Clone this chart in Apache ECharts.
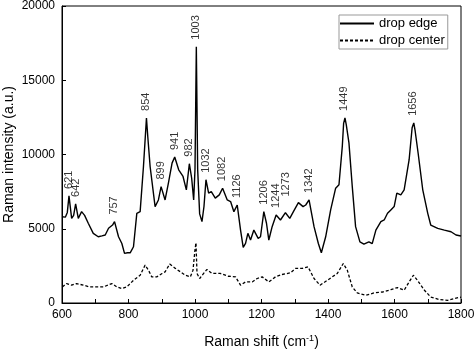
<!DOCTYPE html>
<html>
<head>
<meta charset="UTF-8">
<title>Raman</title>
<script src="https://cdn.jsdelivr.net/npm/echarts@6/dist/echarts.min.js"></script>
<style>
  html, body { margin: 0; padding: 0; background: #fff; }
  #main { width: 474px; height: 351px; }
</style>
</head>
<body>
<div id="main"></div>
<script>
// drop edge spectrum (Raman shift, intensity)
var edgeShift = [600,610,616,621,629,635,641,649,659,668,679,694,709,720,730,740,752,758,770,780,788,797,805,815,825,835,845,850,854,858,865,880,890,898,910,920,931,939,945,951,964,974,983,990,996,1000,1004,1008,1014,1021,1027,1033,1041,1049,1061,1073,1083,1097,1107,1117,1127,1137,1145,1152,1159,1167,1177,1190,1197,1207,1215,1222,1232,1244,1257,1272,1285,1296,1311,1325,1333,1343,1358,1371,1380,1393,1408,1423,1433,1443,1447,1451,1455,1463,1473,1483,1496,1508,1523,1533,1544,1559,1569,1579,1589,1599,1607,1619,1629,1644,1653,1658,1662,1671,1685,1700,1709,1730,1750,1770,1785,1800];
var edgeInt = [5810,5780,6100,7210,5700,5900,6670,5700,6150,5900,5370,4690,4460,4520,4580,5030,5250,5480,4460,4010,3340,3380,3380,3790,6040,6150,9190,11000,12460,11200,9190,6490,6940,7840,6940,8070,9420,9830,9700,8970,8520,7620,9380,8400,6940,9000,17260,9000,6000,5480,6500,8300,7400,7500,7060,7280,7730,6940,6830,6150,6600,4910,3750,4010,4690,4240,4910,4350,4460,6150,5370,4240,5140,5930,5590,6080,5700,6150,6760,6490,6600,6940,5140,4010,3380,4460,6270,7730,7960,10550,12100,12460,12000,10780,7840,5140,4120,3970,4120,4000,4910,5480,5590,6040,6270,6490,7400,7280,7620,9650,11800,12130,11600,10100,7620,6040,5250,5030,4910,4800,4580,4510];

// drop center spectrum
var centerShift = [601,614,629,644,664,684,699,724,750,765,780,795,815,835,850,860,870,885,901,910,924,941,956,971,986,994,1000,1003,1006,1014,1026,1036,1051,1076,1101,1122,1137,1152,1172,1187,1202,1222,1242,1262,1287,1302,1323,1340,1358,1376,1398,1428,1446,1458,1473,1488,1514,1539,1564,1589,1609,1629,1644,1657,1669,1690,1709,1735,1760,1780,1800];
var centerInt = [1080,1310,1200,1310,1200,1080,1080,1080,1310,1080,970,1080,1530,1870,2550,2210,1760,1760,1990,2100,2620,2330,2100,1870,1760,2210,3600,4050,1990,1650,1990,2260,1990,1990,1800,1760,1200,1420,1420,1650,1760,1420,1760,1920,2030,2330,2330,2430,1650,1200,1530,1990,2660,2210,1080,680,520,680,740,900,1040,860,1420,1870,1530,860,400,230,180,300,400];

// labelled peaks
var peakShift = [621,642,757,854,899,941,982,1003,1032,1082,1126,1206,1244,1273,1342,1449,1656];
var peakInt = [7210,6670,5480,12460,7840,9830,9380,17260,8300,7730,6600,6150,5930,6700,6940,12460,12130];

var xTicks = [600,800,1000,1200,1400,1600,1800];

function pairs(xs, ys) {
  var out = [];
  for (var i = 0; i < xs.length; i++) out.push([xs[i], ys[i]]);
  return out;
}

var font = 'Liberation Sans, Arial, sans-serif';
var myChart = echarts.init(document.getElementById('main'));
var option = {
  backgroundColor: '#fff',
  animation: false,
  textStyle: { fontFamily: font, color: '#000' },
  grid: {
    left: 62, right: 13, top: 6, bottom: 48,
    outerBoundsMode: 'none', containLabel: false,
    show: true, borderColor: '#000', borderWidth: 1
  },
  legend: {
    data: ['drop edge', 'drop center'],
    orient: 'vertical',
    left: 339, top: 15,
    itemWidth: 34, itemHeight: 14, itemGap: 4,
    padding: [2, 3, 2, 0],
    borderColor: '#999', borderWidth: 1,
    itemStyle: { opacity: 0 },
    textStyle: { fontFamily: font, fontSize: 13, color: '#000' }
  },
  xAxis: {
    type: 'value', min: 600, max: 1800, interval: 200,
    name: 'Raman shift (cm{sup|-1})',
    nameLocation: 'middle', nameGap: 31, nameMoveOverlap: false,
    nameTextStyle: {
      fontFamily: font, fontSize: 14, color: '#000',
      rich: { sup: { fontSize: 9, verticalAlign: 'top', padding: [0, 0, 8, 0], color: '#000' } }
    },
    axisLine: { lineStyle: { color: '#000', width: 1 } },
    axisTick: { inside: true, length: 4, lineStyle: { color: '#000' } },
    minorTick: { show: true, splitNumber: 2, length: 4, lineStyle: { color: '#000' } },
    axisLabel: {
      fontFamily: font, fontSize: 12, color: '#000', margin: 6,
      formatter: function (v) { return xTicks.indexOf(v) >= 0 ? String(v) : ''; }
    },
    splitLine: { show: false }
  },
  yAxis: {
    type: 'value', min: 0, max: 20000, interval: 5000,
    name: 'Raman intensity (a.u.)',
    nameLocation: 'middle', nameGap: 46, nameMoveOverlap: false,
    nameTextStyle: { fontFamily: font, fontSize: 14, color: '#000' },
    axisLine: { show: true, lineStyle: { color: '#000', width: 1 } },
    axisTick: { show: true, inside: true, length: 4, lineStyle: { color: '#000' } },
    axisLabel: {
      fontFamily: font, fontSize: 12, color: '#000', margin: 7,
      formatter: function (v) { return String(v); }
    },
    splitLine: { show: false }
  },
  series: [
    {
      name: 'drop edge', type: 'line', symbol: 'none',
      data: pairs(edgeShift, edgeInt),
      lineStyle: { color: '#000', width: 1.4 },
      itemStyle: { color: '#000' },
      z: 3
    },
    {
      name: 'drop center', type: 'line', symbol: 'none',
      data: pairs(centerShift, centerInt),
      lineStyle: { color: '#000', width: 1.3, type: [3, 2] },
      itemStyle: { color: '#000' },
      z: 2
    },
    {
      name: 'peaks', type: 'scatter', symbolSize: 0,
      data: pairs(peakShift, peakInt),
      silent: true,
      label: {
        show: true, position: 'top', distance: 7, rotate: 90,
        align: 'left', verticalAlign: 'middle',
        fontFamily: font, fontSize: 11, color: '#000',
        formatter: function (p) { return String(p.value[0]); }
      },
      z: 4
    }
  ]
};
myChart.setOption(option);
</script>
</body>
</html>
